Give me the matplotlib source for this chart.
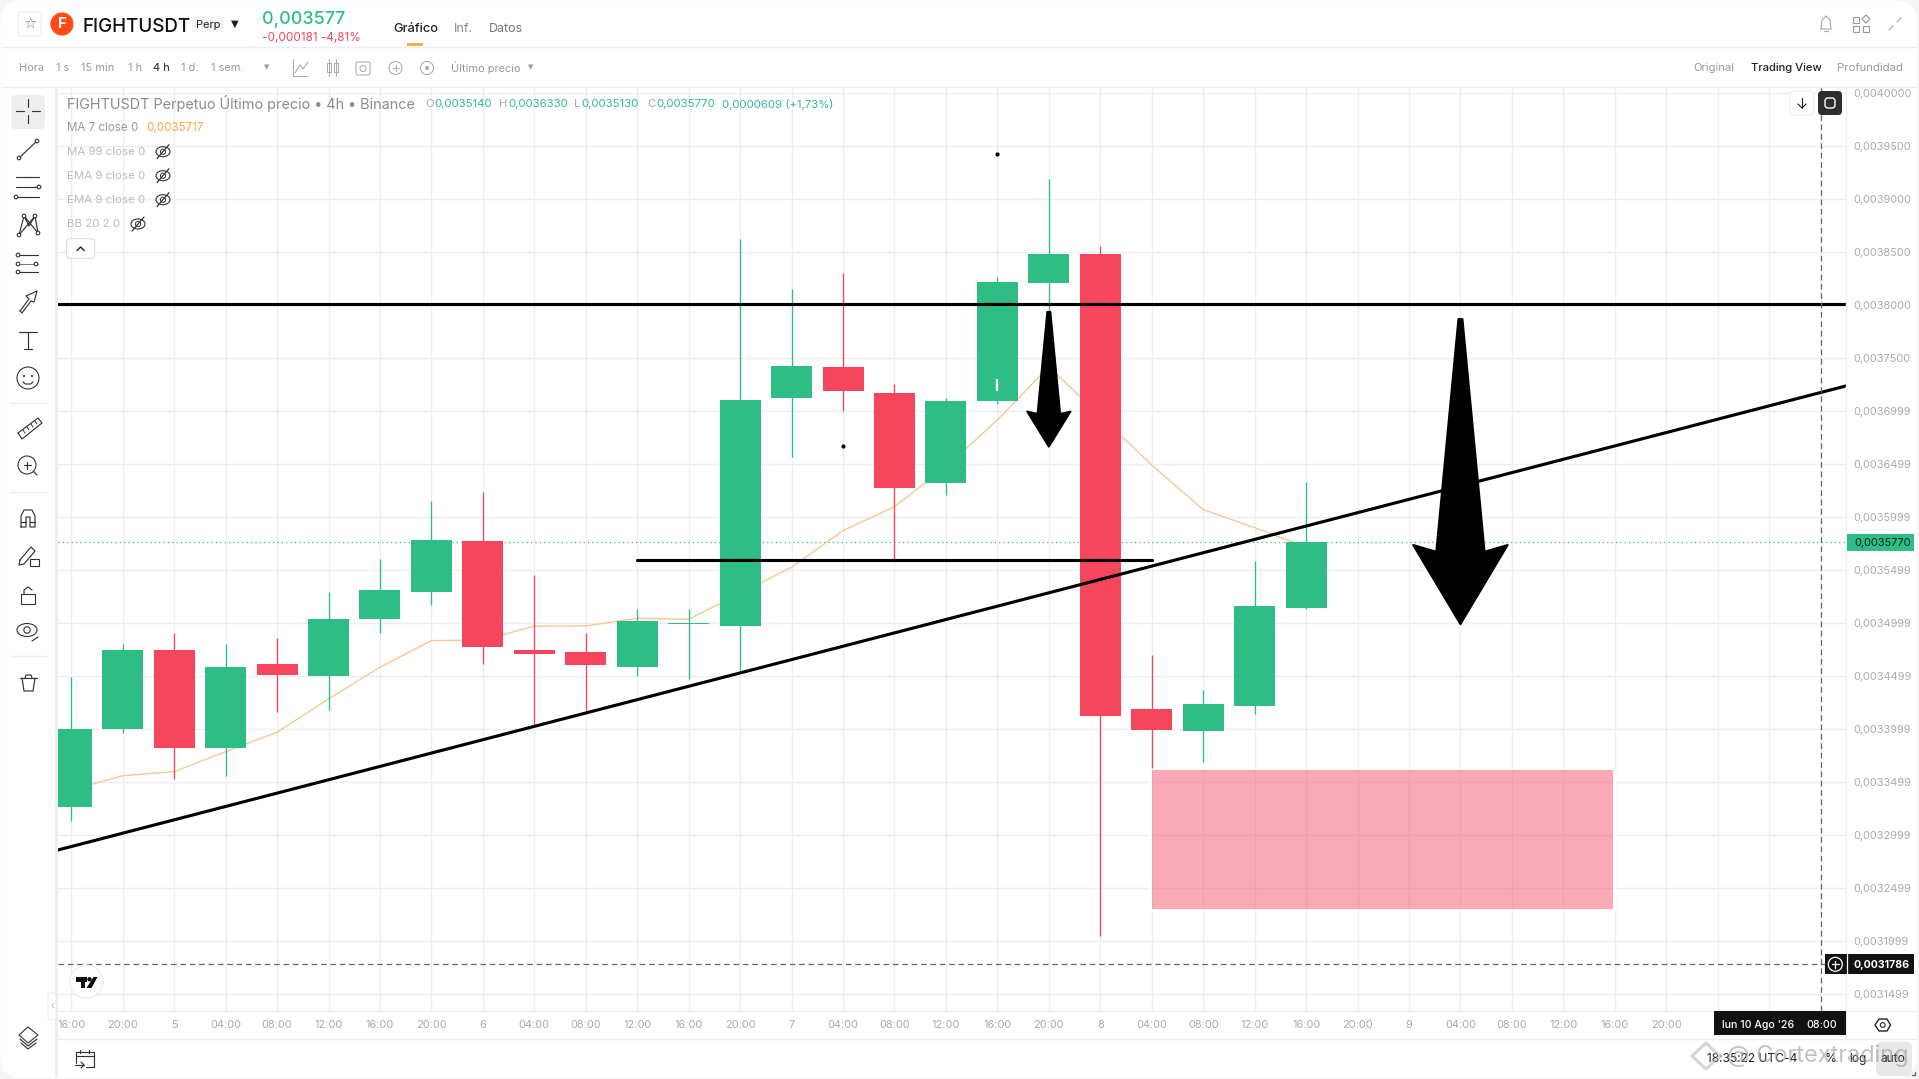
import matplotlib
matplotlib.use("Agg")
import matplotlib.pyplot as plt
from matplotlib.patches import Rectangle, Polygon, Circle, FancyBboxPatch, Ellipse

W, H = 1919, 1079
UP, DOWN = "#2EBD85", "#F6465D"
GRID = "#EEEEEE"
FONT = ["Inter", "DejaVu Sans"]
plt.rcParams["font.family"] = FONT

# ---------- data (4h candles) ----------
opens = [0.0033267, 0.0034003, 0.0034748, 0.0033824, 0.0034616, 0.0034503, 0.0035041, 0.0035295,
         0.0035776, 0.0034748, 0.0034729, 0.0034588, 0.0034993, 0.0034975, 0.0037125, 0.0037418,
         0.0037173, 0.0036324, 0.0037097, 0.0038210, 0.0038484, 0.0034192, 0.0033984, 0.0034220, 0.0035140]
highs = [0.0034493, 0.0034805, 0.0034908, 0.0034805, 0.0034861, 0.0035295, 0.0035607, 0.0036154,
         0.0036239, 0.0035456, 0.0034908, 0.0035135, 0.0035135, 0.0038625, 0.0038154, 0.0038305,
         0.0037258, 0.0037125, 0.0038267, 0.0039192, 0.0038559, 0.0034701, 0.0034371, 0.0035588, 0.0036330]
lows = [0.0033135, 0.0033965, 0.0033531, 0.0033559, 0.0034163, 0.0034182, 0.0034908, 0.0035173,
        0.0034616, 0.0034038, 0.0034166, 0.0034503, 0.0034475, 0.0034559, 0.0036569, 0.0037003,
        0.0035607, 0.0036210, 0.0037069, 0.0037937, 0.0032050, 0.0033635, 0.0033691, 0.0034144, 0.0035130]
closes = [0.0034003, 0.0034748, 0.0033824, 0.0034588, 0.0034512, 0.0035041, 0.0035314, 0.0035786,
          0.0034776, 0.0034710, 0.0034607, 0.0035022, 0.0035003, 0.0037107, 0.0037427, 0.0037192,
          0.0036276, 0.0037097, 0.0038220, 0.0038484, 0.0034128, 0.0033993, 0.0034239, 0.0035163, 0.0035770]
ma7 = [0.0033427, 0.0033562, 0.0033600, 0.0033789, 0.0033972, 0.0034286, 0.0034585, 0.0034836,
       0.0034842, 0.0034972, 0.0034975, 0.0035047, 0.0035038, 0.0035283, 0.0035528, 0.0035874,
       0.0036100, 0.0036475, 0.0036918, 0.0037420, 0.0036956, 0.0036493, 0.0036072, 0.0035902, 0.0035717]
time_labels = ["16:00", "20:00", "5", "04:00", "08:00", "12:00", "16:00", "20:00", "6", "04:00", "08:00",
               "12:00", "16:00", "20:00", "7", "04:00", "08:00", "12:00", "16:00", "20:00", "8", "04:00",
               "08:00", "12:00", "16:00", "20:00", "9", "04:00", "08:00", "12:00", "16:00", "20:00", "10",
               "04:00", "08:00"]
price_ticks = [0.0040, 0.00395, 0.0039, 0.00385, 0.0038, 0.00375, 0.0037, 0.00365, 0.0036,
               0.00355, 0.0035, 0.00345, 0.0034, 0.00335, 0.0033, 0.00325, 0.0032, 0.00315]
price_labels = ["0,0040000", "0,0039500", "0,0039000", "0,0038500", "0,0038000", "0,0037500", "0,0036999",
                "0,0036499", "0,0035999", "0,0035499", "0,0034999", "0,0034499", "0,0033999", "0,0033499",
                "0,0032999", "0,0032499", "0,0031999", "0,0031499"]
last_price = 0.0035770
cross_price = 0.0031786
cross_index = 34
resistance = 0.0038009
support_short = 0.0035594
support_short_span = [11, 21]
trend_x = [-0.2585, 34.494]
trend_y = [0.0032861, 0.0037239]
zone_x = [21, 29.965]
zone_y = [0.0032305, 0.0033616]
small_arrow_x = [18.97, 19.0, 19.03, 19.22, 19.42, 19.0, 18.58, 18.78]
small_arrow_y = [0.0037937, 0.0037937, 0.0037937, 0.0036975, 0.0036997, 0.0036666, 0.0036997, 0.0036975]
big_arrow_x = [26.96, 27.0, 27.04, 27.47, 27.92, 27.0, 26.08, 26.53]
big_arrow_y = [0.0037870, 0.0037870, 0.0037870, 0.0035675, 0.0035739, 0.0034991, 0.0035739, 0.0035675]
dot_x = [18.0, 15.0]
dot_y = [0.0039427, 0.0036675]

# ---------- figure ----------
fig = plt.figure(figsize=(W / 100, H / 100), dpi=100, facecolor="#F5F5F5")
bg = fig.add_axes([0, 0, 1, 1], zorder=0)
bg.set_xlim(0, W); bg.set_ylim(H, 0); bg.axis("off")
bg.add_patch(FancyBboxPatch((10, 10), W - 22, H - 21, boxstyle="round,pad=0,rounding_size=10",
                            mutation_aspect=1, fc="white", ec="white", lw=14))

L_, R_, T_, B_ = 58, 1846, 87, 1011
ax = fig.add_axes([L_ / W, 1 - B_ / H, (R_ - L_) / W, (B_ - T_) / H], zorder=1, facecolor="white")
xs = list(range(len(opens)))
ax.set_xlim(-0.2585, 34.494)
ax.set_ylim(0.0031342, 0.0040059)
ax.set_xticks(range(len(time_labels)))
ax.set_xticklabels(time_labels)
ax.set_yticks(price_ticks)
ax.set_yticklabels(price_labels)
ax.yaxis.tick_right()
ax.tick_params(axis="both", length=0, labelcolor="#AAAAAA", labelsize=7.9)
ax.tick_params(axis="x", pad=6.8)
ax.tick_params(axis="y", pad=5.5)
ax.grid(True, color=GRID, lw=1.0)
ax.set_axisbelow(True)
for s in ax.spines.values():
    s.set_visible(False)

ax.axhline(last_price, color=UP, lw=0.9, ls=(0, (1, 2.5)), zorder=1.5)
ax.plot(xs, ma7, color="#F7C88F", lw=1.0, zorder=1.8)
col = [UP if c >= o else DOWN for o, c in zip(opens, closes)]
ax.vlines(xs, lows, highs, colors=col, lw=0.95, zorder=2)
bot = [min(o, c) for o, c in zip(opens, closes)]
hgt = [max(abs(c - o), 0.0000011) for o, c in zip(opens, closes)]
ax.bar(xs, hgt, bottom=bot, width=0.797, color=col, zorder=2.2, lw=0)

# white tick inside one candle
ax.plot([18, 18], [0.0037190, 0.0037305], color="white", lw=1.6, zorder=2.4, solid_capstyle="butt")

# zone
px, py = 1.35 / 51.45, 1.35 / 1.06e6
ax.add_patch(Rectangle((zone_x[0] - px, zone_y[0] - py), zone_x[1] - zone_x[0] + 2 * px,
                       zone_y[1] - zone_y[0] + 2 * py, fc="none", ec="white", lw=2, zorder=1.9))
ax.add_patch(Rectangle((zone_x[0], zone_y[0]), zone_x[1] - zone_x[0], zone_y[1] - zone_y[0],
                       fc=DOWN, alpha=0.46, ec="none", zorder=2.5))

# drawings
lw_d = 2.25
ax.axhline(resistance, color="black", lw=lw_d, zorder=3)
ax.plot(support_short_span, [support_short] * 2, color="black", lw=lw_d, zorder=3, solid_capstyle="round")
ax.plot(trend_x, trend_y, color="black", lw=lw_d, zorder=3)
for ax_x, ax_y in ((small_arrow_x, small_arrow_y), (big_arrow_x, big_arrow_y)):
    ax.add_patch(Polygon(list(zip(ax_x, ax_y)), closed=True, fc="black", ec="black", lw=1.4,
                         joinstyle="round", zorder=3.2))
ax.scatter(dot_x, dot_y, s=9, color="black", zorder=3.2, lw=0)
ax.axvline(cross_index, color="#666666", lw=0.9, ls=(0, (4.5, 3)), zorder=3.4)
ax.axhline(cross_price, color="#666666", lw=0.9, ls=(0, (4.5, 3)), zorder=3.4)

# ---------- chrome ----------
ov = fig.add_axes([0, 0, 1, 1], zorder=2)
ov.set_xlim(0, W); ov.set_ylim(H, 0); ov.axis("off"); ov.patch.set_alpha(0)

def TX(x, y, s, px_, c="#888888", ha="left", va="center", w="normal", fam=None, alpha=None, z=5):
    return ov.text(x, y, s, fontsize=px_ * 0.72, color=c, ha=ha, va=va, fontweight=w,
                   family=fam or FONT, alpha=alpha, zorder=z)

def LN(pts, c="#333333", lw=0.85, z=4):
    ov.plot([p[0] for p in pts], [p[1] for p in pts], color=c, lw=lw, zorder=z,
            solid_capstyle="round", solid_joinstyle="round")

def CI(x, y, r, c="#333333", lw=0.8, fc="none", z=4):
    ov.add_patch(Circle((x, y), r, fc=fc, ec=c, lw=lw, zorder=z))

def RB(x0, y0, x1, y1, r=3, fc="white", ec="none", lw=0.8, z=3):
    ov.add_patch(FancyBboxPatch((x0 + r, y0 + r), x1 - x0 - 2 * r, y1 - y0 - 2 * r,
                                boxstyle=f"round,pad={r},rounding_size={r}", fc=fc, ec=ec, lw=lw, zorder=z))

# separators
for y, x0, x1 in ((46.7, 2, 1916), (86.7, 2, 1916), (1011, 58, 1916), (1039, 58, 1916)):
    LN([(x0, y), (x1, y)], c=GRID, lw=1.0, z=2)
LN([(1846, 87), (1846, 1039)], c=GRID, lw=1.0, z=2)
ov.add_patch(Rectangle((54.5, 87), 3.5, 990, fc=GRID, ec="none", zorder=2))

# header
RB(18, 12, 41, 36, r=3, ec="#EEEEEE")
TX(30, 24, "☆", 15, c="#777777", ha="center", fam=["DejaVu Sans"])
CI(62, 24, 11, c="#FE4A13", fc="#FE4A13")
TX(62, 24, "F", 15, c="white", ha="center", w="bold")
TX(82.5, 27.5, "FIGHTUSDT", 18.8, c="#111111", w="medium")
RB(192, 16, 224, 32, r=2, fc="#F5F5F5")
TX(208, 24.5, "Perp", 11, c="#222222", ha="center")
TX(235, 24, "▼", 10, c="#222222", ha="center", fam=["DejaVu Sans"])
TX(262, 20, "0,003577", 18, c=UP, w="medium")
TX(262, 38, "-0,000181 -4,81%", 11.7, c=DOWN)
TX(393, 29, "Gráfico", 12.8, c="#222222", w="medium")
ov.add_patch(Rectangle((407, 43), 16, 3, fc="#F2AE48", ec="none", zorder=4))
TX(453.5, 29, "Inf.", 12.5, c="#888888")
TX(489, 29, "Datos", 12.5, c="#777777")

# row 2
for x, s, c in ((19, "Hora", "#999999"), (56, "1 s", "#999999"), (81, "15 min", "#999999"), (128, "1 h", "#999999"),
                (153, "4 h", "#222222"), (181, "1 d.", "#999999"), (211, "1 sem.", "#999999"),
                (451, "Último precio", "#999999")):
    TX(x, 68, s, 11, c=c)
TX(267, 67, "▼", 7, c="#999999", ha="center", fam=["DejaVu Sans"])
TX(531, 67, "▼", 7, c="#999999", ha="center", fam=["DejaVu Sans"])
ICL = "#AAAAAA"
LN([(293, 59), (293, 76), (308, 76)], c=ICL, lw=0.75)
LN([(295, 73), (300, 65), (303, 69), (308, 62)], c=ICL, lw=0.75)
for xx in (329, 336):
    ov.add_patch(Rectangle((xx - 2, 63), 4, 9, fc="none", ec=ICL, lw=0.75, zorder=4))
    LN([(xx, 59), (xx, 76)], c=ICL, lw=0.75)
RB(356, 62, 370, 75, r=2, fc="none", ec=ICL, lw=0.75, z=4)
CI(363, 68.5, 3, c=ICL, lw=0.75)
CI(395.5, 68, 6.5, c=ICL, lw=0.75)
LN([(392.5, 68), (398.5, 68)], c=ICL, lw=0.75); LN([(395.5, 65), (395.5, 71)], c=ICL, lw=0.75)
CI(427, 68, 6.5, c=ICL, lw=0.75)
CI(427, 68, 1.5, c=ICL, fc=ICL, lw=0.75)
TX(1693, 68, "Original", 11.3, c="#999999")
TX(1751, 68, "Trading View", 11.2, c="#222222", w="medium")
TX(1837, 68, "Profundidad", 11.3, c="#999999")

# top right icons
LN([(1821, 29), (1822, 20), (1826, 16), (1830, 20), (1831, 29), (1821, 29)], c="#AAAAAA")
LN([(1824, 31), (1828, 31)], c="#AAAAAA")
for (x0, y0) in ((1853, 17), (1853, 26), (1863, 26)):
    ov.add_patch(Rectangle((x0, y0), 6, 6, fc="none", ec="#999999", lw=0.8, zorder=4))
ov.add_patch(Polygon([(1866, 15), (1870, 19), (1866, 23), (1862, 19)], fc="none", ec="#999999", lw=0.8, zorder=4))
LN([(1889, 30), (1893, 26)], c="#AAAAAA"); LN([(1897, 22), (1901, 18)], c="#AAAAAA")

# legend
TX(66.6, 104, "FIGHTUSDT Perpetuo Último precio • 4h • Binance", 14.4, c="#8C8C8C")
for x, s in ((425, "O"), (499.4, "H"), (574, "L"), (647, "C")):
    TX(x, 104, s, 11.4, c="#AAAAAA")
for x, s in ((434, "0,0035140"), (508.6, "0,0036330"), (581.5, "0,0035130"), (656, "0,0035770"),
             (721.6, "0,0000609 (+1,73%)")):
    TX(x, 104, s, 11.4, c=UP)
TX(66.6, 128, "MA 7 close 0", 11.6, c="#999999")
TX(146, 128, "0,0035717", 11.6, c="#F5A94B")
for y, s, xe in ((151.7, "MA 99 close 0", 163), (175.7, "EMA 9 close 0", 163), (199.7, "EMA 9 close 0", 163),
                 (224, "BB 20 2 0", 138)):
    TX(66.6, y, s, 11.5, c="#BBBBBB")
    ov.add_patch(Ellipse((xe, y), 14, 10, fc="none", ec="#333333", lw=0.8, zorder=4))
    CI(xe, y, 2.6, c="#333333", lw=0.7)
    LN([(xe - 6, y + 7), (xe + 6, y - 7)], c="#333333", lw=0.9)
RB(66.6, 238.7, 94.7, 258.3, r=3, ec="#DDDDDD")
LN([(77, 250.5), (80.6, 247), (84.2, 250.5)], c="#222222", lw=1.0)

# top right chart buttons
RB(1790, 91, 1813.7, 115, r=4, ec="#EEEEEE")
LN([(1802, 98), (1802, 108)], c="#222222"); LN([(1798, 104), (1802, 108), (1806, 104)], c="#222222")
RB(1818, 91, 1842, 115, r=4, fc="#2E2E2E")
RB(1825, 98, 1835, 108, r=3, fc="none", ec="white", lw=1.0, z=4)

# price labels
ov.add_patch(Rectangle((1847, 534), 66.7, 16.7, fc=UP, ec="none", zorder=3))
TX(1854, 542.5, "0,0035770", 11, c="#10202A")
ov.add_patch(Rectangle((1825, 954), 89, 20.3, fc="#111111", ec="none", zorder=3))
LN([(1846.5, 954), (1846.5, 974.3)], c="white", lw=0.9)
CI(1835.3, 964.3, 7, c="white", lw=0.9)
LN([(1832, 964.3), (1838.6, 964.3)], c="white", lw=0.9); LN([(1835.3, 961), (1835.3, 967.6)], c="white", lw=0.9)
TX(1854, 964.5, "0,0031786", 10.6, c="white", w="bold")

# time box & bottom row
ov.add_patch(Rectangle((1714, 1011), 132, 24, fc="#111111", ec="none", zorder=3))
TX(1722, 1025, "lun 10 Ago '26", 10.6, c="white", w="medium")
TX(1837, 1025, "08:00", 10.6, c="white", ha="right", w="medium")
ov.add_patch(Polygon([(1875, 1025), (1879, 1019), (1887, 1019), (1890.5, 1025), (1887, 1031), (1879, 1031)],
                     fc="none", ec="#222222", lw=1.0, zorder=4))
CI(1882.7, 1025, 2.4, c="#222222")
RB(1876, 1041.7, 1912, 1076, r=6, fc="#E8E8E8")
TX(1706.7, 1059, "18:35:22 UTC-4", 12, c="#222222")
TX(1830, 1059, "%", 12, c="#222222", ha="center")
TX(1858, 1059, "log", 12, c="#222222", ha="center")
TX(1893, 1059, "auto", 12, c="#222222", ha="center")
TX(1727, 1056, "@ Cortextrading", 23.5, c="#999999", alpha=0.6, z=6)
ov.add_patch(Polygon([(1706, 1043), (1720, 1056), (1706, 1069), (1692, 1056)], fc="none", ec="#BBBBBB", lw=2.2,
                     alpha=0.6, zorder=6))
LN([(1912, 1075), (1915, 1075), (1915, 1072)], c="#666666", lw=1.0)

# TradingView logo and small controls
ov.add_patch(Ellipse((86.5, 981.7), 33, 33, fc="white", ec="#EEEEEE", lw=1.0, zorder=4))
ov.add_patch(Polygon([(76, 977), (87, 977), (87, 981.5), (85, 981.5), (85, 988), (80.5, 988), (80.5, 981.5), (76, 981.5)],
                     fc="#111111", ec="none", zorder=5))
CI(89.5, 979.3, 2.2, c="#111111", fc="#111111", lw=0, z=5)
ov.add_patch(Polygon([(93.5, 977), (97.5, 977), (91.5, 988), (86.5, 988)], fc="#111111", ec="none", zorder=5))
RB(48, 993, 56, 1020, r=3, ec="#EEEEEE")
TX(52, 1006.5, "‹", 10, c="#BBBBBB", ha="center")

# left toolbar
IC = "#333333"
RB(11, 95, 45, 129, r=5, fc="#EEEEEE")
X = 28
LN([(X - 12, 111), (X - 4, 111)], IC); LN([(X + 4, 111), (X + 12, 111)], IC)
LN([(X, 99), (X, 107)], IC); LN([(X, 115), (X, 123)], IC)
LN([(20, 157), (36, 142)], IC); CI(19, 158, 1.8); CI(37, 141, 1.8)
for y in (177, 187, 197):
    LN([(16, y), (39, y)], IC)
CI(39, 187, 1.8, fc="white"); CI(16, 197, 1.8, fc="white")
LN([(19, 235), (24, 216), (29, 226), (35, 216), (38, 233), (24, 216)], IC)
LN([(19, 235), (35, 216)], IC)
for p in ((19, 235), (24, 216), (35, 216), (38, 233)):
    CI(p[0], p[1], 1.8, fc="white")
LN([(19, 255), (38, 255)], IC); LN([(19, 264), (38, 264)], "#777777", lw=0.7); LN([(19, 272), (38, 272)], IC)
CI(18, 255, 1.8, fc="white"); CI(18, 264, 1.8, fc="white"); CI(36, 264, 1.8, fc="white"); CI(18, 272, 1.8, fc="white")
LN([(20, 311), (29, 299), (26, 296), (37, 291), (34, 302), (31, 301), (22, 313), (20, 311)], IC)
LN([(19, 332), (37, 332)], IC); LN([(28, 332), (28, 349)], IC); LN([(24, 349), (32, 349)], IC)
CI(28, 378, 11); CI(24, 376, 0.5); CI(32, 376, 0.5)
LN([(23, 382), (25.5, 384), (30.5, 384), (33, 382)], IC)
LN([(18, 433), (38, 418), (42, 423), (22, 439), (18, 433)], IC)
for (a, b) in ((23, 430), (27, 427), (31, 424), (35, 421)):
    LN([(a, b), (a + 2, b + 3)], IC, lw=0.7)
CI(27, 465, 9)
LN([(23.5, 465), (30.5, 465)], IC); LN([(27, 461.5), (27, 468.5)], IC); LN([(33.5, 471.5), (37, 475)], IC)
LN([(21, 527), (21, 516), (24, 510), (32, 510), (35, 516), (35, 527), (30, 527), (30, 517), (26, 517), (26, 527), (21, 527)], IC)
LN([(21, 522), (26, 522)], IC); LN([(30, 522), (35, 522)], IC)
LN([(20, 560), (31, 547), (35, 551), (24, 564), (19, 565), (20, 560)], IC)
ov.add_patch(Rectangle((30, 559), 9, 7, fc="white", ec=IC, lw=0.8, zorder=4))
ov.add_patch(Rectangle((21, 594), 14, 10, fc="none", ec=IC, lw=0.8, zorder=4))
LN([(24, 594), (24, 590), (28, 587), (32, 590)], IC)
ov.add_patch(Ellipse((27, 630), 20, 13, fc="none", ec=IC, lw=0.8, zorder=4))
CI(27, 630, 3.2); LN([(32, 641), (38, 637)], IC)
LN([(20, 678), (37, 678)], IC); LN([(22, 678), (24, 691), (33, 691), (35, 678)], IC); LN([(25, 678), (26, 675), (31, 675), (32, 678)], IC)
for y in (403, 492, 656):
    LN([(10, y), (46, y)], GRID, lw=1.0)
ov.add_patch(Polygon([(28, 1027), (38, 1035), (28, 1043), (19, 1035)], fc="none", ec=IC, lw=0.8, zorder=4))
LN([(20, 1039), (28, 1046), (37, 1039)], IC); LN([(21, 1043), (28, 1049), (36, 1043)], IC)
LN([(76, 1063), (76, 1052), (94, 1052), (94, 1067), (86, 1067)], IC)
LN([(76, 1056), (94, 1056)], IC); LN([(80, 1050), (80, 1053)], IC); LN([(89, 1050), (89, 1053)], IC)
LN([(75, 1065), (84, 1065)], IC); LN([(81, 1062), (84, 1065), (81, 1068)], IC)

fig.savefig("out.png", dpi=100, facecolor=fig.get_facecolor())
